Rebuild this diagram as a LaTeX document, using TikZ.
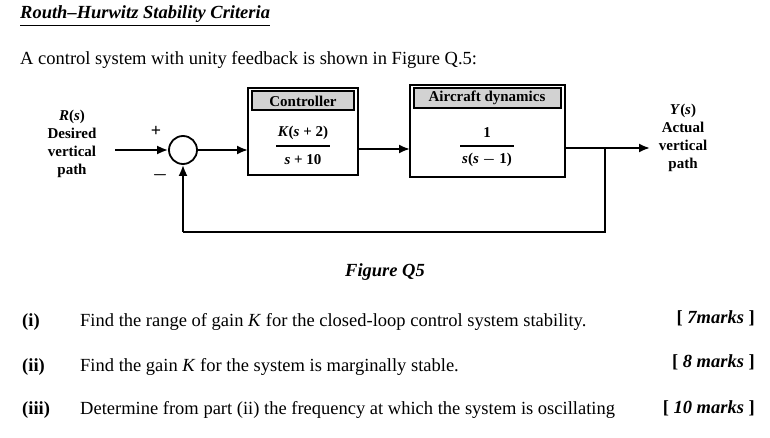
\documentclass[tikz,border=0pt]{standalone}
\usepackage{amsmath}
\usepackage{fontspec}
\setmainfont{Liberation Serif}
\usetikzlibrary{arrows.meta}
\begin{document}
\begin{tikzpicture}[x=1pt,y=-1pt,
  txt/.style={font=\fontsize{18.5}{21}\selectfont,inner sep=0pt},
  btxt/.style={font=\fontsize{18.5}{21}\selectfont\bfseries,inner sep=0pt},
  lab/.style={font=\fontsize{15}{18}\selectfont\bfseries,inner sep=0pt,align=center},
  blk/.style={draw,line width=2pt},
  hdr/.style={draw,line width=1.5pt,fill=gray!35},
  sig/.style={line width=2pt,-{Latex[length=11pt,width=9pt]}},
  wire/.style={line width=2pt}]
\useasboundingbox (0,0) rectangle (770,438);
\node[txt,anchor=west,font=\fontsize{18.5}{21}\selectfont\bfseries\itshape] (title) at (20,16) {\underline{Routh–Hurwitz Stability Criteria}};
\node[txt,anchor=west] (intro) at (20,60) {A control system with unity feedback is shown in Figure Q.5:};
% blocks
\draw[blk] (248,88) rectangle (358,175);
\draw[hdr] (252,91) rectangle (354,110);
\node[lab] (ctrlh) at (303,101) {Controller};
\node[lab] (cnum) at (303,133) {\textit{K}(\textit{s} + 2)};
\draw[line width=1.5pt] (276,146) -- (330,146);
\node[lab] (cden) at (303,160) {\textit{s} + 10};
\draw[blk] (410,85) rectangle (565,177);
\draw[hdr] (414,88) rectangle (561,108);
\node[lab] (airh) at (487,98) {Aircraft dynamics};
\node[lab] (anum) at (487,133) {1};
\draw[line width=1.5pt] (460,146) -- (514,146);
\node[lab] (aden) at (487,160) {\textit{s}(\textit{s} $\boldsymbol{-}$ 1)};
\coordinate (cin) at (248,150);
\coordinate (cout) at (358,149);
\coordinate (ain) at (410,149);
\coordinate (aout) at (565,148);
% summing junction
\node[draw,circle,line width=1.8pt,minimum size=28pt,inner sep=0pt] (sum) at (183,150) {};
\coordinate (rin) at (115,150);
\coordinate (yout) at (650,148);
\coordinate (br) at (605,148);
\coordinate (fb1) at (605,232);
\coordinate (fb2) at (183,232);
\draw[sig] (rin) -- (sum.west);
\draw[sig] (sum.east) -- (cin);
\draw[sig] (cout) -- (ain);
\draw[sig] (aout) -- (yout);
\draw[wire] (br) -- (fb1) -- (fb2);
\draw[sig] (fb2) -- (sum.south);
\node[lab,font=\fontsize{18}{20}\selectfont\bfseries] (plus) at (156,131) {+};
\node[lab,font=\fontsize{18}{20}\selectfont] (minus) at (160,175) {$\boldsymbol{-}$};
\node[lab,anchor=north] (rlab) at (72,110) {\textit{R}(\textit{s})\\Desired\\vertical\\path};
\node[lab,anchor=north] (ylab) at (683,104) {\textit{Y}(\textit{s})\\Actual\\vertical\\path};
\node[txt,font=\fontsize{18.5}{21}\selectfont\bfseries\itshape] (fig) at (385,272) {Figure Q5};
% questions
\node[btxt,anchor=west] (q1n) at (22,322) {(i)};
\node[txt,anchor=west] (q1) at (80,322) {Find the range of gain \textit{K} for the closed-loop control system stability.};
\node[btxt,anchor=east] (m1) at (755,318) {[ \textit{7marks} ]};
\node[btxt,anchor=west] (q2n) at (22,367) {(ii)};
\node[txt,anchor=west] (q2) at (80,367) {Find the gain \textit{K} for the system is marginally stable.};
\node[btxt,anchor=east] (m2) at (755,362) {[ \textit{8 marks} ]};
\node[btxt,anchor=west] (q3n) at (22,410) {(iii)};
\node[txt,anchor=west] (q3) at (80,410) {Determine from part (ii) the frequency at which the system is oscillating};
\node[btxt,anchor=east] (m3) at (755,408) {[ \textit{10 marks} ]};
\end{tikzpicture}
\end{document}
